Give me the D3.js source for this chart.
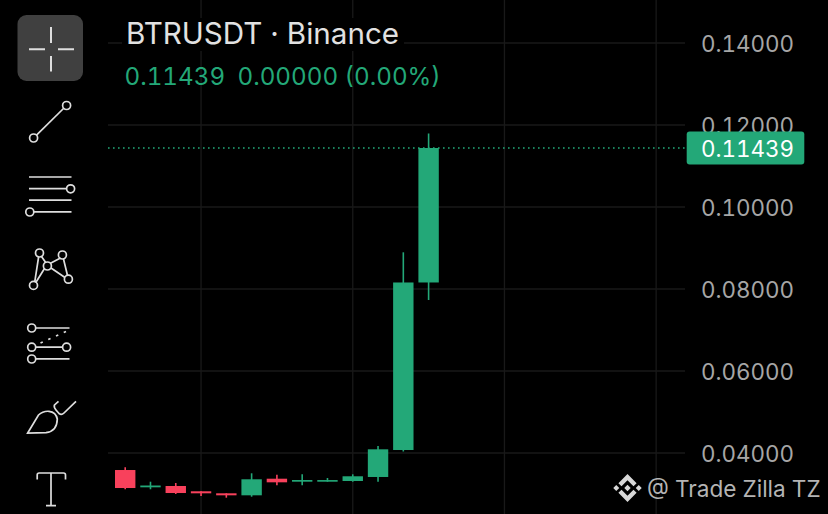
<!DOCTYPE html>
<html><head><meta charset="utf-8">
<script src="https://cdn.jsdelivr.net/npm/d3@7/dist/d3.min.js"></script>
<style>html,body{margin:0;padding:0;background:#000;overflow:hidden}svg{display:block}text{font-family:Inter,"Open Sans",sans-serif;font-feature-settings:"tnum" 1;font-variant-numeric:tabular-nums}</style>
</head><body><svg id="c" width="828" height="514"></svg>
<script>
const opens  = [.03585,.03163,.03195,.03066,.03017,.02968,.03373,.03300,.03300,.03317,.03415,.04073,.08159];
const closes = [.03146,.03207,.03024,.03017,.02968,.03359,.03285,.03341,.03340,.03432,.04090,.08159,.11439];
const highs  = [.03651,.03300,.03268,.03066,.03017,.03505,.03471,.03480,.03390,.03480,.04171,.08895,.11793];
const lows   = [.03115,.03115,.03000,.02951,.02910,.02934,.03212,.03212,.03300,.03300,.03300,.04037,.07732];
const priceTicks = [.04,.06,.08,.10,.12,.14];
const timeTicks = [3,9,15,21];
const lastPrice = 0.11439;
const title = "BTRUSDT · Binance";
const legendA = "0.11439", legendB = "0.00000 (0.00%)";
const watermark = "@ Trade Zilla TZ";

const GREEN="#23a878", RED="#f8415c", GRID="#191919", AXIS="#a6a6a6", ICON="#dedede";
const svg=d3.select("#c");
svg.append("rect").attr("width",828).attr("height",514).attr("fill","#000");
const x=d3.scaleLinear().domain([0,12]).range([125.2,428.6]);
const y=d3.scaleLinear().domain([.04,.14]).range([453,43]);
const bw=20.4;

const grid=svg.append("g");
grid.selectAll("line.h").data(priceTicks).join("line").attr("class","h")
 .attr("x1",108).attr("x2",685).attr("y1",d=>y(d)).attr("y2",d=>y(d)).attr("stroke",GRID).attr("stroke-width",1.3);
grid.selectAll("line.v").data(timeTicks).join("line").attr("class","v")
 .attr("x1",d=>x(d)).attr("x2",d=>x(d)).attr("y1",0).attr("y2",514).attr("stroke",GRID).attr("stroke-width",1.3);

// axis labels
svg.append("g").selectAll("text").data(priceTicks).join("text")
 .attr("x",701).attr("y",d=>y(d)+8.5).attr("font-size",22.4).attr("fill",AXIS).text(d=>d3.format(".5f")(d));

// last-price line
svg.append("line").attr("x1",108).attr("x2",687).attr("y1",y(lastPrice)).attr("y2",y(lastPrice))
 .attr("stroke",GREEN).attr("stroke-width",1.6).attr("stroke-dasharray","1.6 3.4");

// candles
const cand=svg.append("g").selectAll("g").data(opens.map((o,i)=>({i,o,c:closes[i],h:highs[i],l:lows[i]}))).join("g");
cand.append("line").attr("x1",d=>x(d.i)).attr("x2",d=>x(d.i)).attr("y1",d=>y(d.h)).attr("y2",d=>y(d.l))
 .attr("stroke",d=>d.c>=d.o?GREEN:RED).attr("stroke-width",1.6);
cand.append("rect").attr("x",d=>x(d.i)-bw/2).attr("width",bw)
 .attr("y",d=>y(Math.max(d.o,d.c))).attr("height",d=>Math.abs(y(d.o)-y(d.c)))
 .attr("fill",d=>d.c>=d.o?GREEN:RED);

// price tag
const tagY=y(lastPrice);
svg.append("rect").attr("x",686.7).attr("y",tagY-16.5).attr("width",117.6).attr("height",33).attr("rx",3).attr("fill",GREEN);
svg.append("text").attr("x",701).attr("y",tagY+8.5).attr("font-size",22.4).attr("fill","#fff").text(d3.format(".5f")(lastPrice));

// header
svg.append("rect").attr("x",122).attr("y",18).attr("width",282).attr("height",33).attr("fill","#000");
svg.append("text").attr("x",126).attr("y",43.5).attr("font-size",29.6).attr("fill","#e2e2e2").text(title);
svg.append("text").attr("x",124.5).attr("y",85).attr("font-size",24.2).attr("fill",GREEN).text(legendA);
svg.append("text").attr("x",237.5).attr("y",85).attr("font-size",24.2).attr("fill",GREEN).text(legendB);

// watermark
svg.append("text").attr("x",647).attr("y",497).attr("font-size",22.6).attr("fill","#b4b4b4").text(watermark);
const logo=svg.append("g").attr("transform","translate(627.5,488) scale(1.07)").attr("fill","#d8d8d8");
logo.append("path").attr("d","M0,-13 L8.5,-4.5 L5.6,-1.7 L0,-7.3 L-5.6,-1.7 L-8.5,-4.5Z M0,13 L8.5,4.5 L5.6,1.7 L0,7.3 L-5.6,1.7 L-8.5,4.5Z M0,-3 L3,0 L0,3 L-3,0Z M-10.5,-2.8 L-13.3,0 L-10.5,2.8 L-7.7,0Z M10.5,-2.8 L13.3,0 L10.5,2.8 L7.7,0Z");

// toolbar
const tb=svg.append("g").attr("fill","none").attr("stroke",ICON).attr("stroke-width",1.7);
tb.append("rect").attr("x",17.5).attr("y",15).attr("width",65.5).attr("height",66).attr("rx",9).attr("fill","#404040").attr("stroke","none");
tb.append("path").attr("stroke-width",2).attr("d","M51,27V43 M51,56V71.5 M29,49.3H45 M58,49.3H74");
const circ=(cx,cy,r=4)=>tb.append("circle").attr("cx",cx).attr("cy",cy).attr("r",r);
const p=d=>tb.append("path").attr("d",d);
p("M36.5,135.2L63.5,108.5");circ(33.6,138);circ(66.6,105.5);
p("M29,177H71.5 M29,188.7H66.5 M29,200.2H71.5 M34,211.8H71.5");circ(70.6,188.8);circ(29.8,212);
p("M34.8,281.7L38.6,257 M35.8,282.5L44.5,268.5 M45.7,262.6L41.5,256.5 M50,263.5L60.5,258 M63.5,259L67.5,275.5 M51,268L65,277.5");
circ(39.5,253);circ(62.4,255);circ(47.4,266);circ(33.5,285.4);circ(68.4,279.2);
p("M36,328H69.5 M36,347.2H62.5 M36,358.8H69.5");circ(31.7,328);circ(31.7,347.2);circ(66.6,347.2);circ(31.7,359);
tb.append("path").attr("stroke-dasharray","2.5 6").attr("d","M40.5,343L66,331.5");
p("M27.7,433 L38.5,415 Q43,410.8 49,411.3 Q56,412 57.3,419 Q57,431.5 46,432.6 Z");
p("M58.5,401.3 L54.5,405 Q53.5,407 56,410 L59,413.5 Q61.5,415.5 64,413 L76,401.3");
p("M37.2,479.5V475 Q37.2,473 39.2,473H63.5 Q65.5,473 65.5,475V479.5 M51,473V505.5 M46,505.6H56");
</script></body></html>
